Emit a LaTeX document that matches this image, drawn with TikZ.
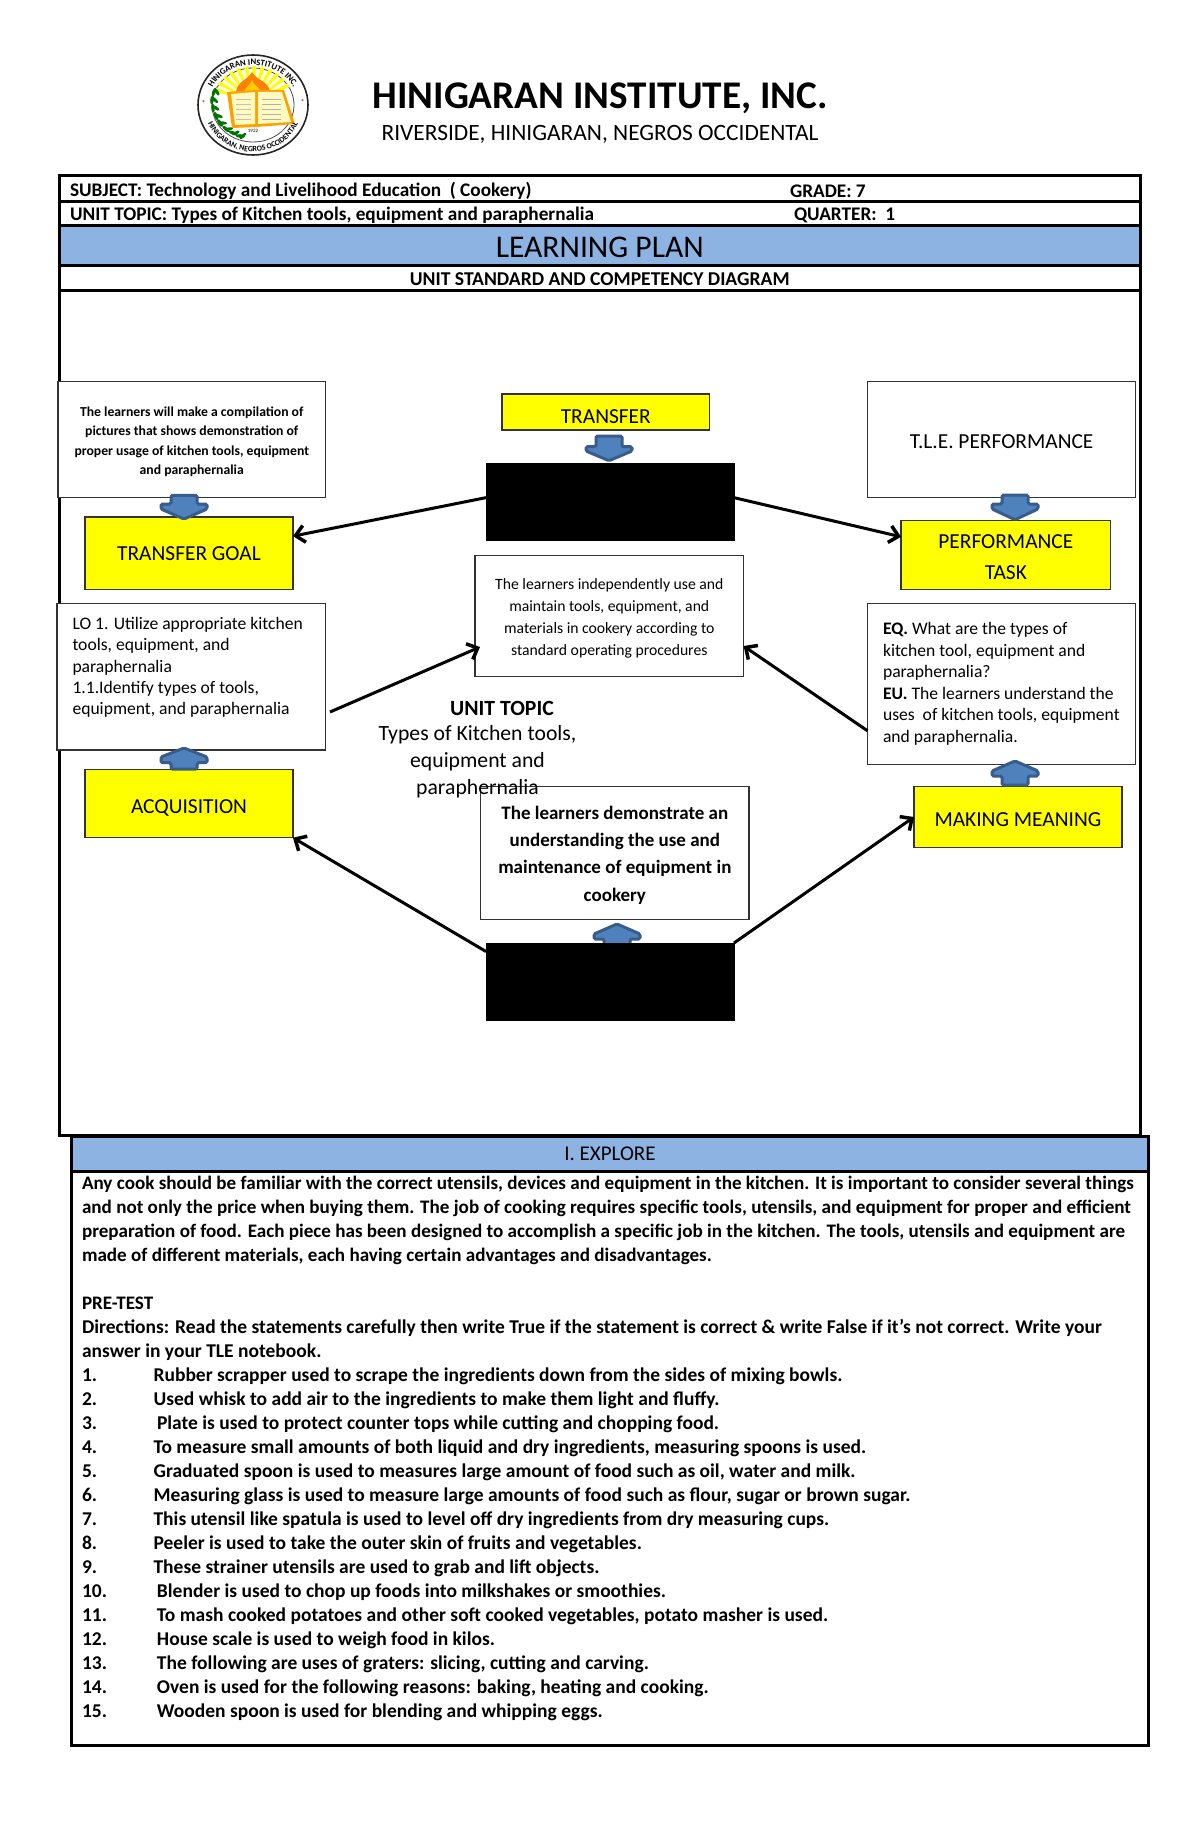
\documentclass[tikz,border=0pt]{standalone}
\usepackage{fontspec}
\setmainfont{Carlito}
\usetikzlibrary{arrows.meta,decorations.text}
\definecolor{hdrblue}{HTML}{8DB3E2}
\definecolor{arrfill}{HTML}{4F81BD}
\definecolor{arrline}{HTML}{385D8A}
\definecolor{hiyellow}{RGB}{255,255,0}
\newcommand\fs[2]{\fontsize{#1}{#2}\selectfont}
\newcommand\itm[3]{\fs{19.5}{24}\makebox[#1pt][l]{#2}#3\\}
\newcommand\blockarrow[5]{\draw[blockarrow] ({#1-13},#2) -- ({#1+13},#2) -- ({#1+13},#3) -- ({#1+23},#3) -- ({#1+23},#4) -- (#1,#5) -- ({#1-23},#4) -- ({#1-23},#3) -- ({#1-13},#3) -- cycle;}
\tikzset{
  frameline/.style={draw=black,line width=3pt,inner sep=0pt,outer sep=0pt},
  hdrbox/.style={frameline,fill=hdrblue},
  whitebox/.style={draw=black!80,line width=1.5pt,fill=white,inner sep=0pt,outer sep=0pt,align=center},
  yellowbox/.style={draw=black!80,line width=1.5pt,fill=hiyellow,inner sep=0pt,outer sep=0pt,align=center},
  blackbox/.style={draw=black,fill=black,inner sep=0pt,outer sep=0pt},
  plain/.style={inner sep=0pt,outer sep=0pt},
  connector/.style={line width=3pt,-{Straight Barb[length=9pt,width=17pt,line width=3.5pt]}},
  blockarrow/.style={draw=arrline,fill=arrfill,line width=3pt,rounded corners=1.5pt},
  leaf/.style={fill=green!45!black,draw=none},
  caps/.style={font=\fs{21.4}{31.5}}
}
\begin{document}
\begin{tikzpicture}[x=1pt,y=-1pt]
\useasboundingbox (0,0) rectangle (1200,1835);
\fill[white] (0,0) rectangle (1200,1835);
% ---------- logo
\fill[white] (253,105) ellipse [x radius=56pt,y radius=51pt];
\draw[black!85,line width=1.6pt] (253,105) ellipse [x radius=55pt,y radius=50pt];
\draw[black!70,line width=0.8pt] (253,105) ellipse [x radius=41pt,y radius=37pt];
\foreach \a in {200,212,...,340}
  \fill[hiyellow] (253,102) -- ({253+40*cos(\a-3)},{102+36*sin(\a-3)}) -- ({253+40*cos(\a+3)},{102+36*sin(\a+3)}) -- cycle;
\fill[orange] (236,92) .. controls (238,80) and (246,82) .. (252,72) .. controls (258,82) and (268,80) .. (270,92) -- cycle;
\fill[hiyellow!60!orange] (244,92) .. controls (246,86) and (250,86) .. (252,80) .. controls (254,86) and (258,86) .. (262,92) -- cycle;
\foreach \x/\y/\r in {214/92/70,212/100/85,213/108/95,216/116/110,220/123/125,226/129/140,233/133/160,240/136/175}{
  \fill[leaf,rotate around={\r:(\x,\y)}] (\x,\y) ellipse [x radius=4.5pt,y radius=1.8pt];
  \fill[leaf,rotate around={\r+50:(\x+3,\y)}] (\x+3,\y) ellipse [x radius=4pt,y radius=1.6pt];
}
\fill[orange!75!hiyellow] (227,92) -- (256,90) -- (284,90) -- (295,124) -- (256,127) -- (232,128) -- cycle;
\fill[orange!15!hiyellow!25] (231,94) -- (255,92) -- (255,124) -- (235,125) -- cycle;
\fill[orange!15!hiyellow!25] (258,92) -- (282,92) -- (291,122) -- (258,124) -- cycle;
\foreach \yy in {99,104,109,114,119}{
  \draw[black!30,line width=0.5pt] (262,\yy) -- (281,\yy);
  \draw[black!25,line width=0.5pt] (236,\yy) -- (251,\yy);
}
\node[plain] (logoyear) at (253,131) {\fs{5}{5}1922};
\node[plain,red!80!black] (logostarl) at (203.5,103) {\fs{7}{7}\textbf{*}};
\node[plain,red!80!black] (logostarr) at (302.5,102) {\fs{7}{7}\textbf{*}};
\path[decorate,decoration={text along path,text align={center},text={|\fs{8.6}{9}\bfseries|HINIGARAN INSTITUTE INC.}}]
  (208,104) .. controls (212,52) and (294,52) .. (298,104);
\path[decorate,decoration={text along path,text align={center},text={|\fs{7.8}{8}\bfseries|HINIGARAN, NEGROS OCCIDENTAL}}]
  (204,112) .. controls (216,165) and (290,165) .. (302,112);
% ---------- heading
\node[plain] (school) at (600,98) {\fs{39.2}{44}\bfseries HINIGARAN INSTITUTE, INC.};
\node[plain] (place) at (600,134.5) {\fs{23.4}{26}RIVERSIDE, HINIGARAN, NEGROS OCCIDENTAL};
% ---------- frame
\node[frameline,minimum width=1080.5pt,minimum height=845pt] (frame) at (599.75,713.2) {};
\node[frameline,minimum width=1080.5pt,minimum height=26pt] (rowsubj) at (599.75,188.7) {};
\node[frameline,minimum width=1080.5pt,minimum height=24pt] (rowunit) at (599.75,213.7) {};
\node[hdrbox,minimum width=1080.5pt,minimum height=39.3pt,font=\fs{31.6}{34},text height=25pt,text depth=0pt] (rowplan) at (599.75,245.35) {LEARNING PLAN};
\node[frameline,minimum width=1080.5pt,minimum height=25.7pt,font=\fs{19.6}{22}\bfseries,text height=14.4pt,text depth=0pt] (rowdiag) at (599.75,277.85) {UNIT STANDARD AND COMPETENCY DIAGRAM};
\node[plain,anchor=west,font=\fs{19.25}{22}\bfseries] (subj) at (70,191) {SUBJECT: Technology and Livelihood Education \ ( Cookery)};
\node[plain,anchor=west,font=\fs{19.25}{22}\bfseries] (grade) at (790,191) {GRADE: 7};
\node[plain,anchor=west,font=\fs{19.25}{22}\bfseries] (topic) at (70,215) {UNIT TOPIC: Types of Kitchen tools, equipment and paraphernalia};
\node[plain,anchor=west,font=\fs{19.25}{22}\bfseries] (quarter) at (794,215) {QUARTER: \ 1};
% ---------- diagram boxes
\node[whitebox,minimum width=267.5pt,minimum height=115.6pt,font=\fs{13.7}{19.5}\bfseries] (compile) at (191.75,439.5)
  {\rule{0pt}{14pt}The learners will make a compilation of\\pictures that shows demonstration of\\proper usage of kitchen tools, equipment\\and paraphernalia};
\node[yellowbox,caps,minimum width=208pt,minimum height=72.3pt] (goal) at (189,553.15) {TRANSFER GOAL};
\node[whitebox,align=flush left,inner xsep=15.5pt,text width=237.5pt,minimum height=146.7pt,font=\fs{17.6}{21.4}] (lo) at (191.25,676.65)
  {LO 1. Utilize appropriate kitchen\\tools, equipment, and\\paraphernalia\\1.1.Identify types of tools,\\equipment, and paraphernalia\\~};
\node[yellowbox,caps,minimum width=208pt,minimum height=68.4pt,text height=20.5pt,text depth=0pt] (acq) at (189,803.5) {ACQUISITION};
\node[yellowbox,caps,minimum width=207.6pt,minimum height=36pt,text height=22pt,text depth=0pt] (transfer) at (605.8,412) {TRANSFER};
\node[whitebox,minimum width=268.6pt,minimum height=121.4pt,font=\fs{15.7}{22}] (standard) at (609.3,616)
  {\rule{0pt}{16pt}The learners independently use and\\maintain tools, equipment, and\\materials in cookery according to\\standard operating procedures};
\node[whitebox,minimum width=268.3pt,minimum height=132.6pt,font=\fs{19}{27.4}\bfseries] (content) at (614.85,853)
  {\rule{0pt}{17.5pt}The learners demonstrate an\\understanding the use and\\maintenance of equipment in\\cookery};
\node[whitebox,caps,minimum width=268.2pt,minimum height=115.6pt,text height=18pt,text depth=0pt] (tle) at (1001.6,439.5) {T.L.E. PERFORMANCE};
\node[yellowbox,caps,minimum width=209.7pt,minimum height=69pt] (perf) at (1005.85,554.8) {\rule{0pt}{19pt}PERFORMANCE\\TASK};
\node[whitebox,align=flush left,inner xsep=15.5pt,text width=237.2pt,minimum height=161pt,font=\fs{17.6}{21.5}] (eq) at (1001.6,683.8)
  {\textbf{EQ.} What are the types of\\kitchen tool, equipment and\\paraphernalia?\\\textbf{EU.} The learners understand the\\uses \ of kitchen tools, equipment\\and paraphernalia.};
\node[yellowbox,caps,minimum width=207.8pt,minimum height=60.6pt,text height=18pt,text depth=0pt] (meaning) at (1017.9,817) {MAKING MEANING};
\node[plain,font=\fs{21.7}{24}\bfseries] (unittopic) at (502,708) {UNIT TOPIC};
\node[plain,align=center,font=\fs{21.7}{26.8}] (unittext) at (477.5,762) {Types of Kitchen tools,\\equipment and\\paraphernalia};
% ---------- block arrows
\blockarrow{184}{495.3}{504}{509}{519}
\blockarrow{609}{436}{446.7}{451}{460.7}
\blockarrow{1015}{495}{504}{509}{519.7}
\blockarrow{184}{769}{762.7}{757}{748}
\blockarrow{1015}{785}{776}{771}{761}
\blockarrow{617}{945}{939}{934}{924}
% ---------- black boxes
\node[blackbox,minimum width=248pt,minimum height=76.7pt] (blackup) at (610,501.65) {};
\node[blackbox,minimum width=248pt,minimum height=77pt] (blackdown) at (610,981.5) {};
% ---------- connectors
\draw[connector] ([yshift=4pt]blackup.west) -- ([yshift=17pt]goal.east);
\draw[connector] ([yshift=4pt]blackup.east) -- ([yshift=18pt]perf.west);
\draw[connector] ([xshift=4.5pt,yshift=-35.35pt]lo.east) -- ([xshift=5pt,yshift=-31pt]standard.west);
\draw[connector] ([yshift=-47pt]eq.west) -- ([yshift=-30pt]standard.east);
\draw[connector] ([yshift=30pt]blackdown.west) -- (acq.south east);
\draw[connector] (blackdown.north east) -- (meaning.west);
% ---------- explore
\node[frameline,minimum width=1077.2pt,minimum height=574pt] (explore) at (610,1458) {};
\node[hdrbox,minimum width=1077.2pt,minimum height=34.3pt,font=\fs{21}{24}] (explorehdr) at (610,1153.85) {I. EXPLORE};
\node[plain,anchor=north west,align=left,font=\fs{19.1}{24}\bfseries] (exploretext) at (82,1176.5)
 {Any cook should be familiar with the correct utensils, devices and equipment in the kitchen. It is important to consider several things\\
 and not only the price when buying them. The job of cooking requires specific tools, utensils, and equipment for proper and efficient\\
 preparation of food. Each piece has been designed to accomplish a specific job in the kitchen. The tools, utensils and equipment are\\
 made of different materials, each having certain advantages and disadvantages.\\
 ~\\
 PRE-TEST\\
 \fs{19.5}{24}Directions: Read the statements carefully then write True if the statement is correct \& write False if it’s not correct. Write your\\
 \fs{19.5}{24}answer in your TLE notebook.\\
 \itm{71.6}{1.}{Rubber scrapper used to scrape the ingredients down from the sides of mixing bowls.}
 \itm{71.6}{2.}{Used whisk to add air to the ingredients to make them light and fluffy.}
 \itm{75}{3.}{Plate is used to protect counter tops while cutting and chopping food.}
 \itm{71.6}{4.}{To measure small amounts of both liquid and dry ingredients, measuring spoons is used.}
 \itm{71.6}{5.}{Graduated spoon is used to measures large amount of food such as oil, water and milk.}
 \itm{71.6}{6.}{Measuring glass is used to measure large amounts of food such as flour, sugar or brown sugar.}
 \itm{71.6}{7.}{This utensil like spatula is used to level off dry ingredients from dry measuring cups.}
 \itm{71.6}{8.}{Peeler is used to take the outer skin of fruits and vegetables.}
 \itm{71.6}{9.}{These strainer utensils are used to grab and lift objects.}
 \itm{75}{10.}{Blender is used to chop up foods into milkshakes or smoothies.}
 \itm{75}{11.}{To mash cooked potatoes and other soft cooked vegetables, potato masher is used.}
 \itm{75}{12.}{House scale is used to weigh food in kilos.}
 \itm{75}{13.}{The following are uses of graters: slicing, cutting and carving.}
 \itm{75}{14.}{Oven is used for the following reasons: baking, heating and cooking.}
 \fs{19.5}{24}\makebox[75pt][l]{15.}Wooden spoon is used for blending and whipping eggs.};
\end{tikzpicture}
\end{document}
